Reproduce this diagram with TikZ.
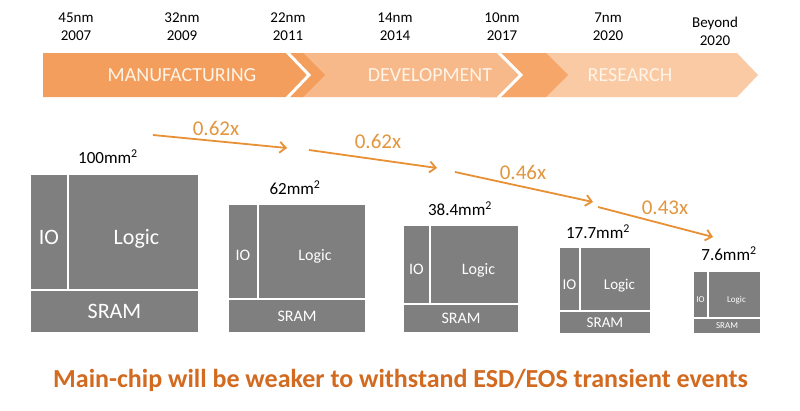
\documentclass[tikz,border=0pt]{standalone}
\usepackage{fontspec}
\setmainfont{Carlito}
\usetikzlibrary{arrows.meta}
\definecolor{secA}{RGB}{243,158,92}
\definecolor{secB}{RGB}{247,184,138}
\definecolor{bandB}{RGB}{245,166,104}
\definecolor{secC}{RGB}{249,202,164}
\definecolor{chipgray}{RGB}{127,127,127}
\definecolor{arrowor}{RGB}{232,144,52}
\definecolor{labelor}{RGB}{226,150,62}
\definecolor{bottomor}{RGB}{210,106,32}
\definecolor{banneretxt}{RGB}{255,244,232}
\newcommand\lowtxt[2]{\raisebox{-#1}[0pt][0pt]{#2}}
\tikzset{
  yearlbl/.style={align=center, font=\fontsize{15}{18}\selectfont, inner sep=0pt},
  bannertxt/.style={text=banneretxt, font=\fontsize{20}{20}\selectfont, inner sep=0pt},
  blk/.style={draw=white, line width=1.6pt, fill=chipgray, text=white, anchor=north west, inner sep=0pt, outer sep=0pt},
  arealbl/.style={font=\fontsize{17}{18}\selectfont, inner sep=0pt},
  ratio/.style={text=labelor, font=\fontsize{21}{22}\selectfont, inner sep=0pt},
  shrink/.style={draw=arrowor, line width=1.8pt, -{Straight Barb[length=6pt,width=11pt,line width=1.8pt]}},
  chev/.style={draw=white, line width=3pt}
}
\begin{document}
\begin{tikzpicture}[x=1pt,y=-1pt]
\useasboundingbox[fill=white] (0,0) rectangle (800,410);
% banner
\fill[secC] (480,53) -- (737,53) -- (758,75) -- (737,97) -- (480,97) -- cycle;
\fill[bandB] (480,53) -- (546,53) -- (568,75) -- (546,97) -- (480,97) -- cycle;
\fill[secB] (300,53) -- (498,53) -- (521,75) -- (498,97) -- (300,97) -- cycle;
\fill[secA] (43,53) -- (303,53) -- (325,75) -- (303,97) -- (43,97) -- cycle;
\draw[chev] (287,52) -- (309,75) -- (287,98);
\draw[chev] (498,52) -- (521,75) -- (498,98);
\node[bannertxt] (manu) at (182,75) {MANUFACTURING};
\node[bannertxt] (dev) at (430,75) {DEVELOPMENT};
\node[bannertxt] (res) at (630,75) {RESEARCH};
% timeline labels
\node[yearlbl] (t1) at (76,27) {45nm\\2007};
\node[yearlbl] (t2) at (182,27) {32nm\\2009};
\node[yearlbl] (t3) at (288,27) {22nm\\2011};
\node[yearlbl] (t4) at (395,27) {14nm\\2014};
\node[yearlbl] (t5) at (502,27) {10nm\\2017};
\node[yearlbl] (t6) at (608,27) {7nm\\2020};
\node[yearlbl] (t7) at (715,31) {Beyond\\2020};
% chip 1
\node[blk, minimum width=38, minimum height=116, font=\fontsize{22}{24}\selectfont] (c1io) at (30,174) {\lowtxt{12pt}{IO}};
\node[blk, minimum width=131, minimum height=116, font=\fontsize{22}{24}\selectfont] (c1lg) at (68,174) {\hspace*{6pt}\lowtxt{12pt}{Logic}};
\node[blk, minimum width=169, minimum height=43, font=\fontsize{22}{24}\selectfont] (c1sr) at (30,290) {SRAM};
\node[arealbl] (a1) at (108,157) {100mm\textsuperscript{2}};
% chip 2
\node[blk, minimum width=30, minimum height=95, font=\fontsize{16}{18}\selectfont] (c2io) at (228,204) {\lowtxt{8.5pt}{IO}};
\node[blk, minimum width=108, minimum height=95, font=\fontsize{16}{18}\selectfont] (c2lg) at (258,204) {\hspace*{6pt}\lowtxt{8.5pt}{Logic}};
\node[blk, minimum width=138, minimum height=34, font=\fontsize{16}{18}\selectfont] (c2sr) at (228,299) {SRAM};
\node[arealbl] (a2) at (295,188) {62mm\textsuperscript{2}};
% chip 3
\node[blk, minimum width=27, minimum height=79, font=\fontsize{16}{18}\selectfont] (c3io) at (403,225) {\lowtxt{9.5pt}{IO}};
\node[blk, minimum width=89, minimum height=79, font=\fontsize{16}{18}\selectfont] (c3lg) at (430,225) {\hspace*{8pt}\lowtxt{9.5pt}{Logic}};
\node[blk, minimum width=116, minimum height=29, font=\fontsize{16}{18}\selectfont] (c3sr) at (403,304) {SRAM};
\node[arealbl] (a3) at (460,209) {38.4mm\textsuperscript{2}};
% chip 4
\node[blk, minimum width=21, minimum height=64, font=\fontsize{15}{16}\selectfont] (c4io) at (559,247) {\lowtxt{10.5pt}{IO}};
\node[blk, minimum width=71, minimum height=64, font=\fontsize{15}{16}\selectfont] (c4lg) at (580,247) {\hspace*{8pt}\lowtxt{10.5pt}{Logic}};
\node[blk, minimum width=92, minimum height=23, font=\fontsize{15}{16}\selectfont] (c4sr) at (559,311) {SRAM};
\node[arealbl] (a4) at (598,232) {17.7mm\textsuperscript{2}};
% chip 5
\node[blk, minimum width=15, minimum height=47, font=\fontsize{9}{10}\selectfont, line width=1.3pt] (c5io) at (693,271) {\lowtxt{7.5pt}{IO}};
\node[blk, minimum width=53, minimum height=47, font=\fontsize{9}{10}\selectfont, line width=1.3pt] (c5lg) at (708,271) {\hspace*{4pt}\lowtxt{7.5pt}{Logic}};
\node[blk, minimum width=68, minimum height=16, font=\fontsize{9}{10}\selectfont, line width=1.3pt] (c5sr) at (693,318) {SRAM};
\node[arealbl] (a5) at (729,254) {7.6mm\textsuperscript{2}};
% shrink arrows
\coordinate (s1) at (153,135); \coordinate (e1) at (287,148);
\coordinate (s2) at (309,150); \coordinate (e2) at (437,168);
\coordinate (s3) at (455,172); \coordinate (e3) at (593,202);
\coordinate (s4) at (598,207); \coordinate (e4) at (713,237);
\draw[shrink] (s1) -- (e1);
\draw[shrink] (s2) -- (e2);
\draw[shrink] (s3) -- (e3);
\draw[shrink] (s4) -- (e4);
\node[ratio] (r1) at (216,128) {0.62x};
\node[ratio] (r2) at (378,141) {0.62x};
\node[ratio] (r3) at (523,172) {0.46x};
\node[ratio] (r4) at (665,208) {0.43x};
% bottom statement
\node[text=bottomor, font=\bfseries\fontsize{26}{28}\selectfont, inner sep=0pt, anchor=west] (msg) at (53,380) {Main-chip will be weaker to withstand ESD/EOS transient events};
\end{tikzpicture}
\end{document}
